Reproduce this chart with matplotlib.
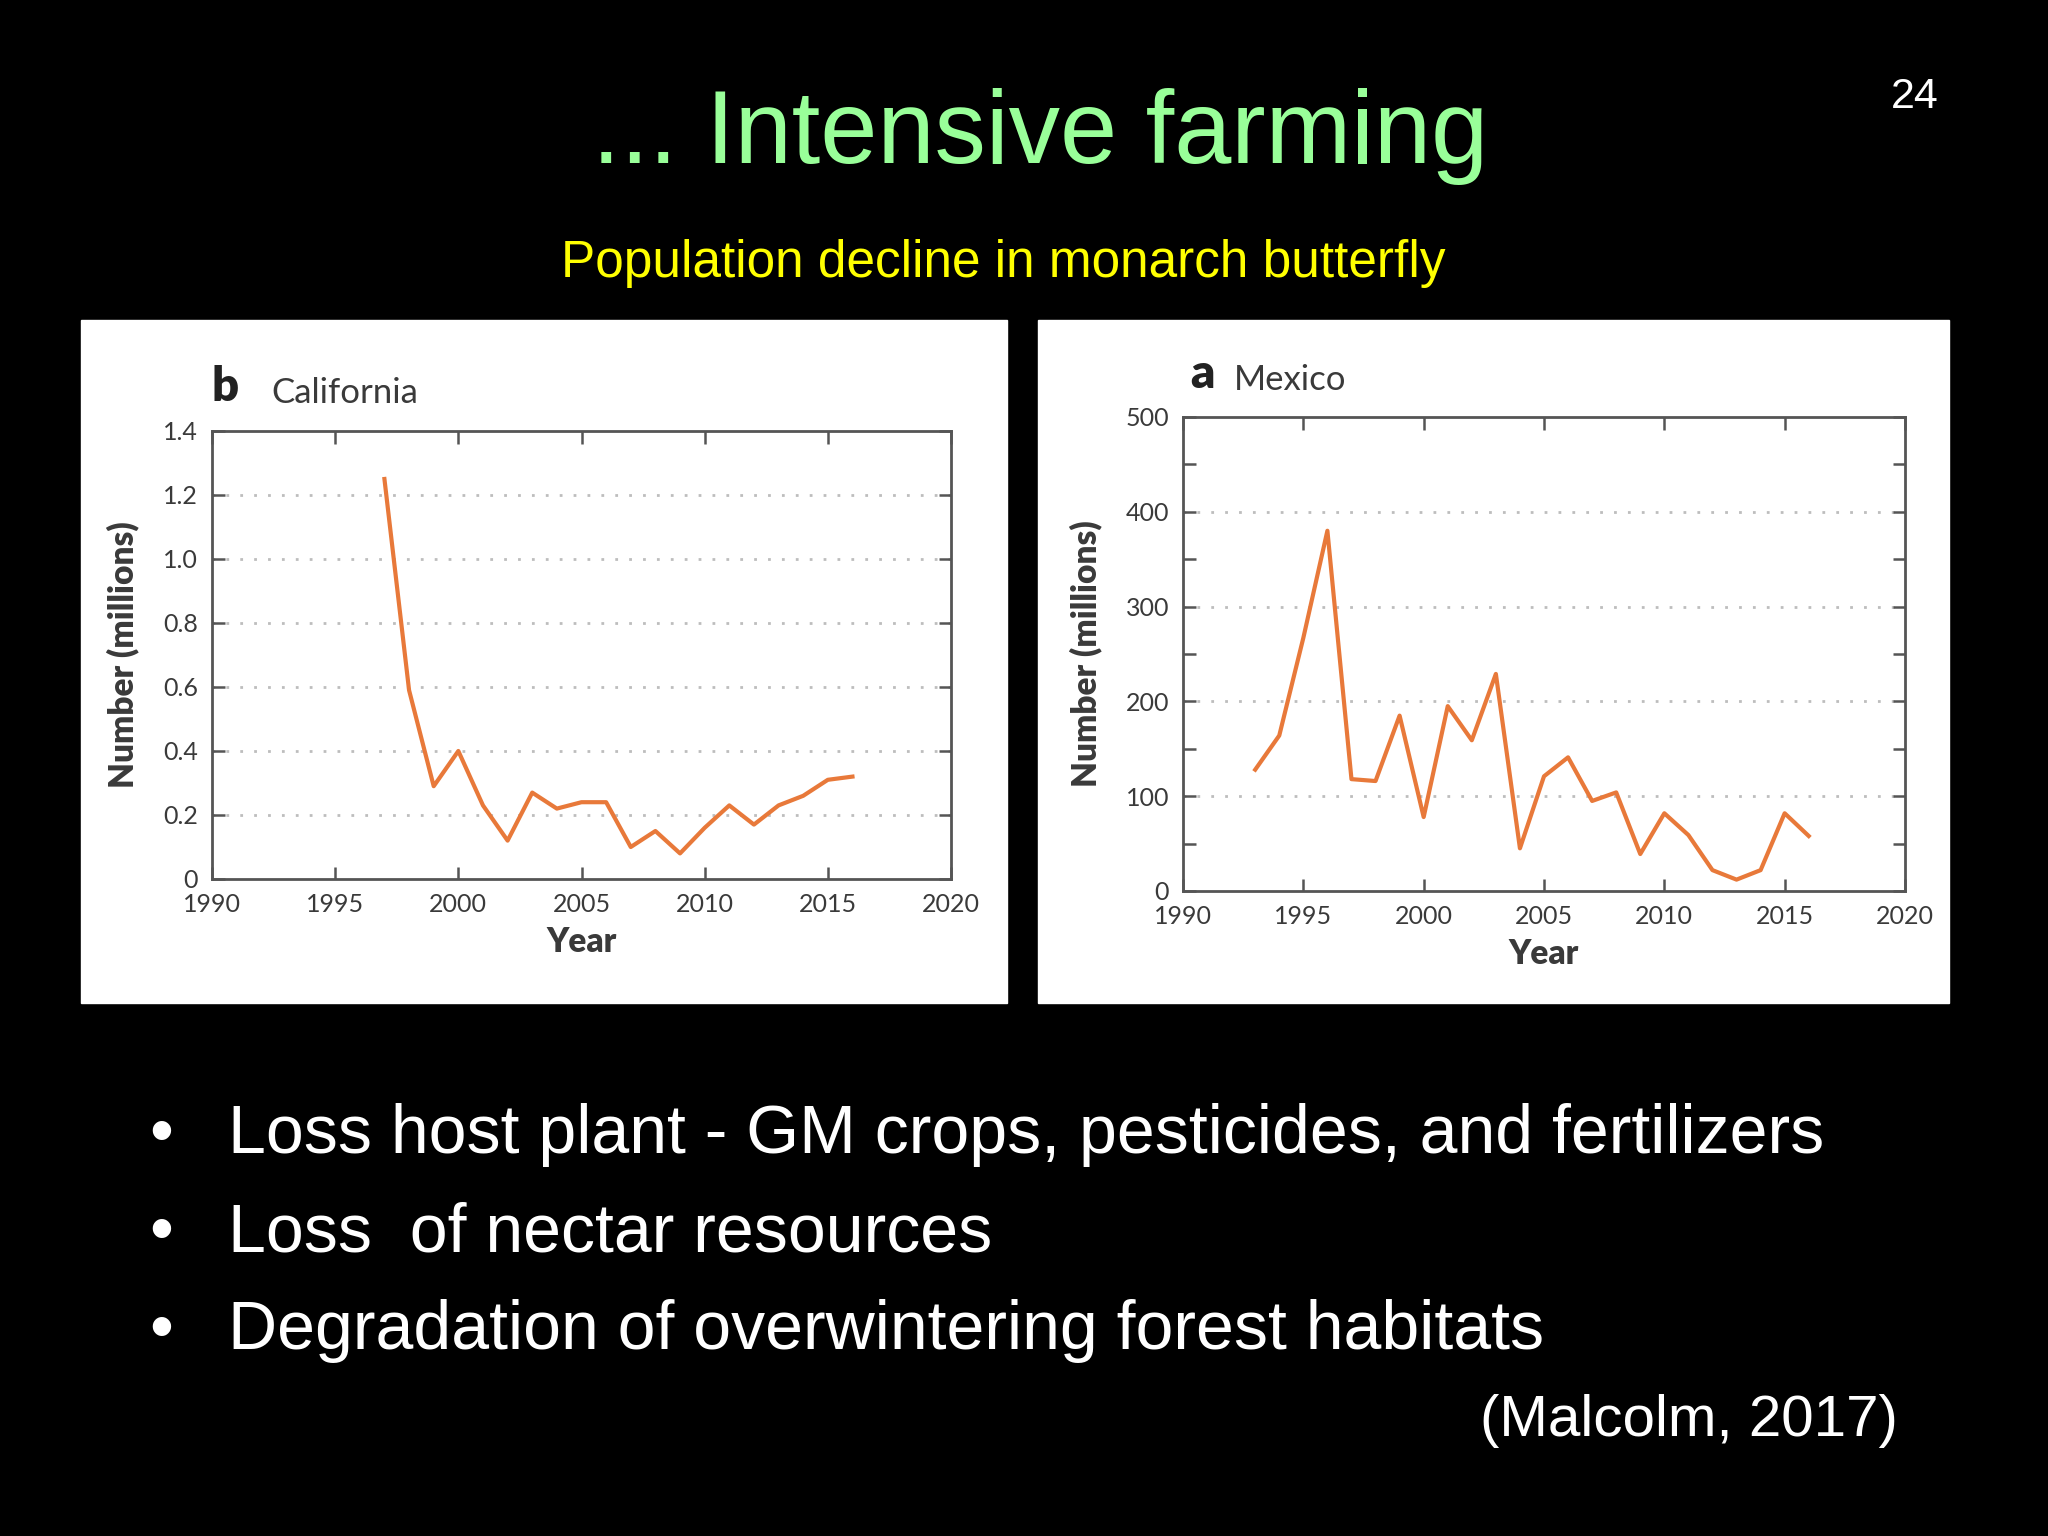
import matplotlib
matplotlib.use("Agg")
import matplotlib.pyplot as plt
from matplotlib.patches import Rectangle
from matplotlib.ticker import MultipleLocator

# data
cal_years = [1997, 1998, 1999, 2000, 2001, 2002, 2003, 2004, 2005, 2006,
             2007, 2008, 2009, 2010, 2011, 2012, 2013, 2014, 2015, 2016]
cal_values = [1.25, 0.59, 0.29, 0.40, 0.23, 0.12, 0.27, 0.22, 0.24, 0.24,
              0.10, 0.15, 0.08, 0.16, 0.23, 0.17, 0.23, 0.26, 0.31, 0.32]

mex_years = [1993, 1994, 1995, 1996, 1997, 1998, 1999, 2000, 2001, 2002,
             2003, 2004, 2005, 2006, 2007, 2008, 2009, 2010, 2011, 2012,
             2013, 2014, 2015, 2016]
mex_values = [128, 164, 267, 380, 118, 116, 185, 78, 195, 159,
              229, 45, 121, 141, 95, 104, 39, 82, 59, 22,
              12, 22, 82, 58]

year_ticks = [1990, 1995, 2000, 2005, 2010, 2015, 2020]
cal_yticks = [0, 0.2, 0.4, 0.6, 0.8, 1.0, 1.2, 1.4]
cal_ylabels = ["0", "0.2", "0.4", "0.6", "0.8", "1.0", "1.2", "1.4"]
mex_yticks = [0, 100, 200, 300, 400, 500]

bullets = ["Loss host plant - GM crops, pesticides, and fertilizers",
           "Loss  of nectar resources",
           "Degradation of overwintering forest habitats"]

orange = "#E8793A"
ink = "#3a3a3a"
chart_font = "Lato"
slide_font = "Liberation Sans"

fig = plt.figure(figsize=(20.48, 15.36), dpi=100)
fig.patch.set_facecolor("black")

# white picture boxes behind the two charts
fig.patches.append(Rectangle((0.0396, 0.347), 0.4521, 0.4447,
                             transform=fig.transFigure, color="white", zorder=-5))
fig.patches.append(Rectangle((0.5068, 0.347), 0.4448, 0.4447,
                             transform=fig.transFigure, color="white", zorder=-5))

# slide texts
fig.text(0.508, 1 - 163 / 1536, "... Intensive farming", color="#99FF99",
         fontsize=74, family=slide_font, ha="center", va="baseline")
fig.text(0.935, 1 - 108 / 1536, "24", color="white",
         fontsize=31, family=slide_font, ha="center", va="baseline")
fig.text(0.490, 1 - 277 / 1536, "Population decline in monarch butterfly",
         color="#FFFF00", fontsize=37, family=slide_font, ha="center", va="baseline")

for i, line in enumerate(bullets):
    yb = 1 - (1153 + 98 * i) / 1536
    fig.text(161 / 2048, yb, "\u2022", color="white", fontsize=49,
             family=slide_font, ha="center", va="baseline")
    fig.text(228 / 2048, yb, line, color="white", fontsize=49,
             family=slide_font, ha="left", va="baseline")
fig.text(1898 / 2048, 1 - 1436 / 1536, "(Malcolm, 2017)", color="white",
         fontsize=42, family=slide_font, ha="right", va="baseline")


def style_axes(ax):
    ax.set_facecolor("white")
    for s in ax.spines.values():
        s.set_color("#555555")
        s.set_linewidth(2)
    ax.set_xlim(1990, 2020)
    ax.set_xticks(year_ticks)
    ax.tick_params(which="both", direction="in", top=True, right=True,
                   color="#555555", width=1.8, labelsize=18,
                   labelcolor=ink, pad=10)
    ax.tick_params(which="major", length=9)
    ax.tick_params(which="minor", length=9)
    for lab in ax.get_xticklabels() + ax.get_yticklabels():
        lab.set_family(chart_font)
    ax.set_xlabel("Year", fontsize=24, fontweight="heavy", color=ink,
                  family=chart_font, labelpad=7)
    ax.set_ylabel("Number (millions)", fontsize=24, fontweight="heavy",
                  color=ink, family=chart_font, labelpad=17)


# California chart
ax1 = fig.add_axes([212 / 2048, 1 - 879 / 1536, 739 / 2048, 448 / 1536])
ax1.set_ylim(0, 1.4)
ax1.set_yticks(cal_yticks)
ax1.set_yticklabels(cal_ylabels)
for g in cal_yticks[1:-1]:
    ax1.axhline(g, color="#bdbdbd", lw=2, ls=(0, (1, 4)), zorder=1)
ax1.plot(cal_years, cal_values, color=orange, lw=3, zorder=3)
style_axes(ax1)
ax1.text(0.0, 1.05, "b", transform=ax1.transAxes, fontsize=34,
         fontweight="heavy", color="#222222", family=chart_font, va="bottom")
ax1.text(0.08, 1.05, "California", transform=ax1.transAxes, fontsize=25,
         color=ink, family=chart_font, va="bottom")

# Mexico chart
ax2 = fig.add_axes([1183 / 2048, 1 - 891 / 1536, 722 / 2048, 474 / 1536])
ax2.set_ylim(0, 500)
ax2.set_yticks(mex_yticks)
ax2.yaxis.set_minor_locator(MultipleLocator(50))
for g in mex_yticks[1:-1]:
    ax2.axhline(g, color="#bdbdbd", lw=2, ls=(0, (1, 4)), zorder=1)
ax2.plot(mex_years, mex_values, color=orange, lw=3, zorder=3)
style_axes(ax2)
ax2.text(0.01, 1.045, "a", transform=ax2.transAxes, fontsize=34,
         fontweight="heavy", color="#222222", family=chart_font, va="bottom")
ax2.text(0.07, 1.045, "Mexico", transform=ax2.transAxes, fontsize=25,
         color=ink, family=chart_font, va="bottom")

fig.savefig("out.png", dpi=100, facecolor="black")
